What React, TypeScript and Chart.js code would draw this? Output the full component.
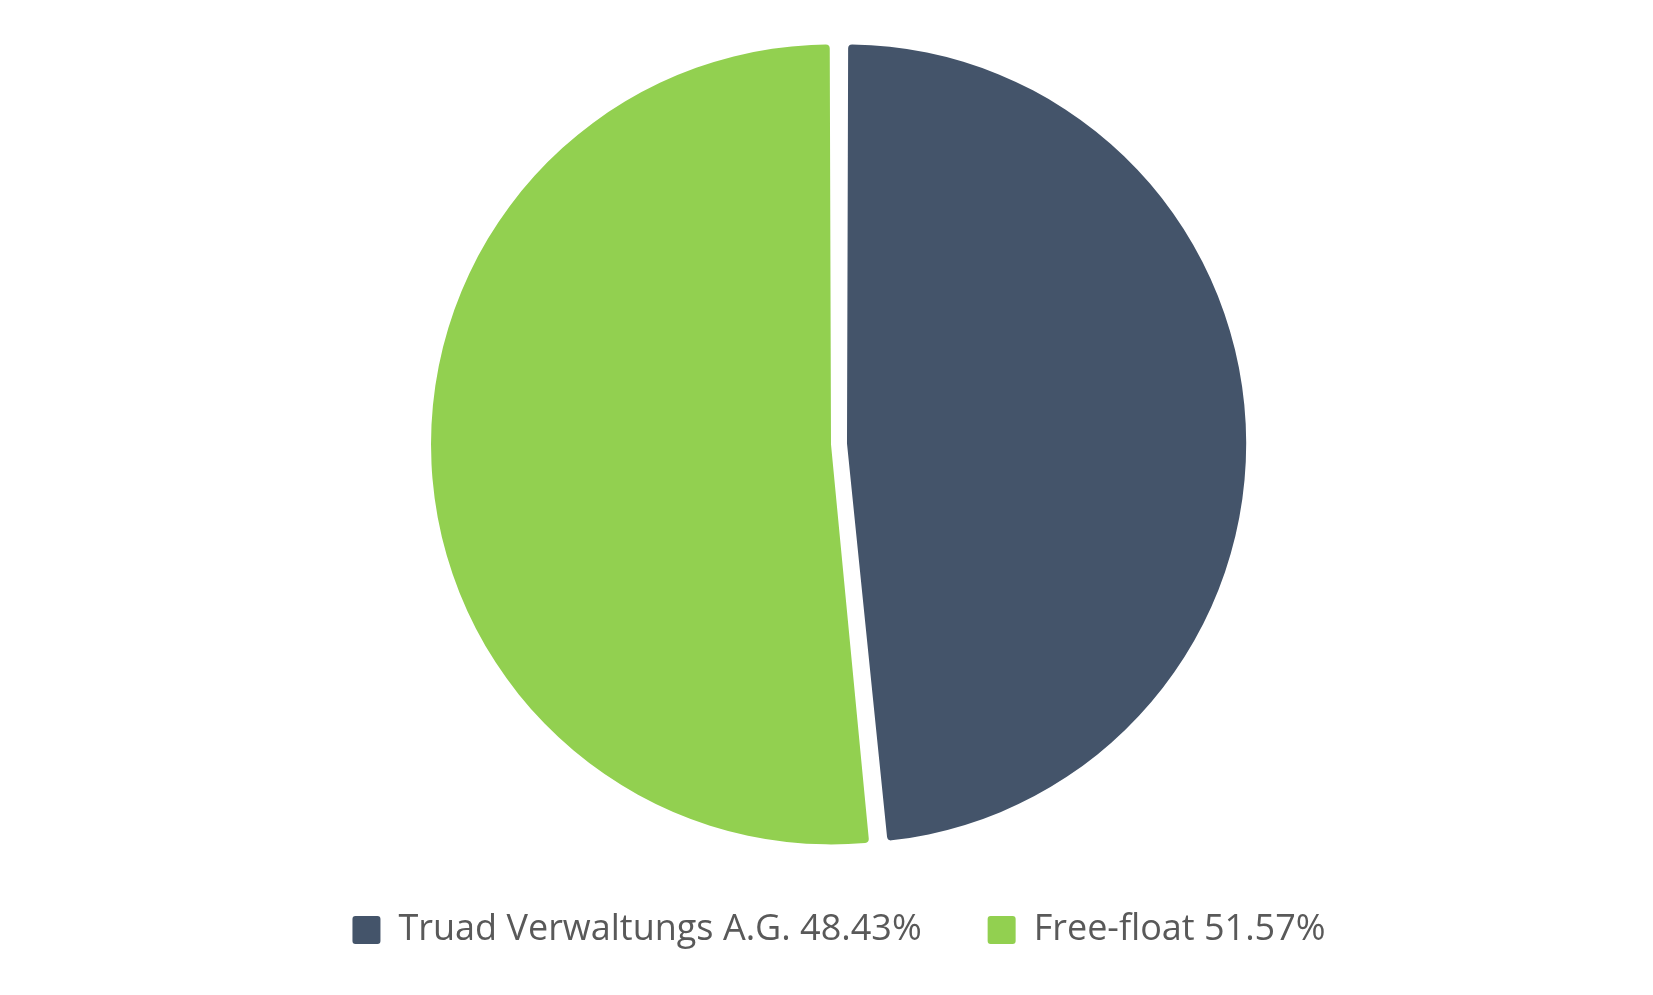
import React, { useEffect, useRef } from "react";
import { Chart, registerables } from "chart.js";

Chart.register(...registerables);

const categories = ["Truad Verwaltungs A.G. 48.43%", "Free-float 51.57%"];
const shareValues = [48.43, 51.57];
const sliceColors = ["#44546A", "#92D050"];

export default function App() {
  const canvasRef = useRef<HTMLCanvasElement | null>(null);

  useEffect(() => {
    document.body.style.margin = "0";
    const canvas = canvasRef.current;
    if (!canvas) return;
    const chart = new Chart(canvas, {
      type: "pie",
      data: {
        labels: categories,
        datasets: [
          {
            data: shareValues,
            backgroundColor: sliceColors,
            borderWidth: 0,
            borderRadius: 4,
            offset: 32,
            radius: 392,
          },
        ],
      },
      options: {
        animation: false,
        responsive: true,
        maintainAspectRatio: false,
        layout: { padding: { top: 42, bottom: 37, left: 25, right: 0 } },
        plugins: {
          tooltip: { enabled: false },
          legend: {
            position: "bottom",
            labels: {
              color: "#595959",
              font: { family: "'Open Sans', sans-serif", size: 36 },
              boxWidth: 28,
              boxHeight: 28,
              padding: 66,
              useBorderRadius: true,
              borderRadius: 3,
            },
          },
        },
      },
    });
    return () => chart.destroy();
  }, []);

  return (
    <div style={{ position: "relative", width: 1653, height: 995 }}>
      <canvas ref={canvasRef} />
    </div>
  );
}
